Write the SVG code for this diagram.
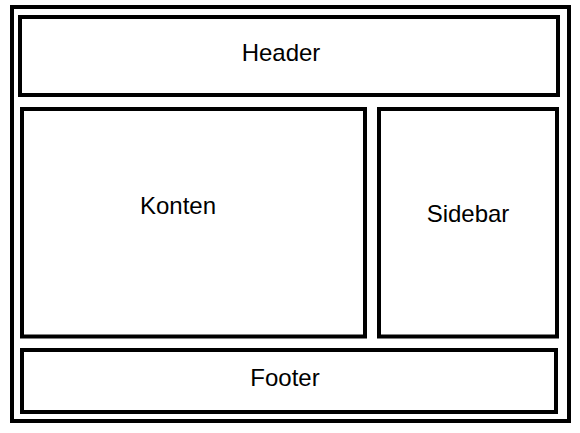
<svg xmlns="http://www.w3.org/2000/svg" width="580" height="433" viewBox="0 0 580 433">
<style>
.box{fill:none;stroke:#000;stroke-width:4}
.lbl{font-family:"Liberation Sans",Arial,sans-serif;font-size:24px;fill:#000;text-anchor:middle}
</style>
<rect width="580" height="433" fill="#fff"/>
<g id="page"><rect class="box" x="12" y="7" width="557" height="414"/></g>
<g id="header"><rect class="box" x="20" y="17" width="538" height="78"/><text class="lbl" x="281" y="61">Header</text></g>
<g id="konten"><rect class="box" x="22" y="109" width="343" height="227.5"/><text class="lbl" x="178" y="214">Konten</text></g>
<g id="sidebar"><rect class="box" x="379" y="109" width="178" height="227.5"/><text class="lbl" x="468" y="222">Sidebar</text></g>
<g id="footer"><rect class="box" x="22" y="350" width="534" height="62"/><text class="lbl" x="285" y="386">Footer</text></g>
<g id="connectors"></g>
</svg>
